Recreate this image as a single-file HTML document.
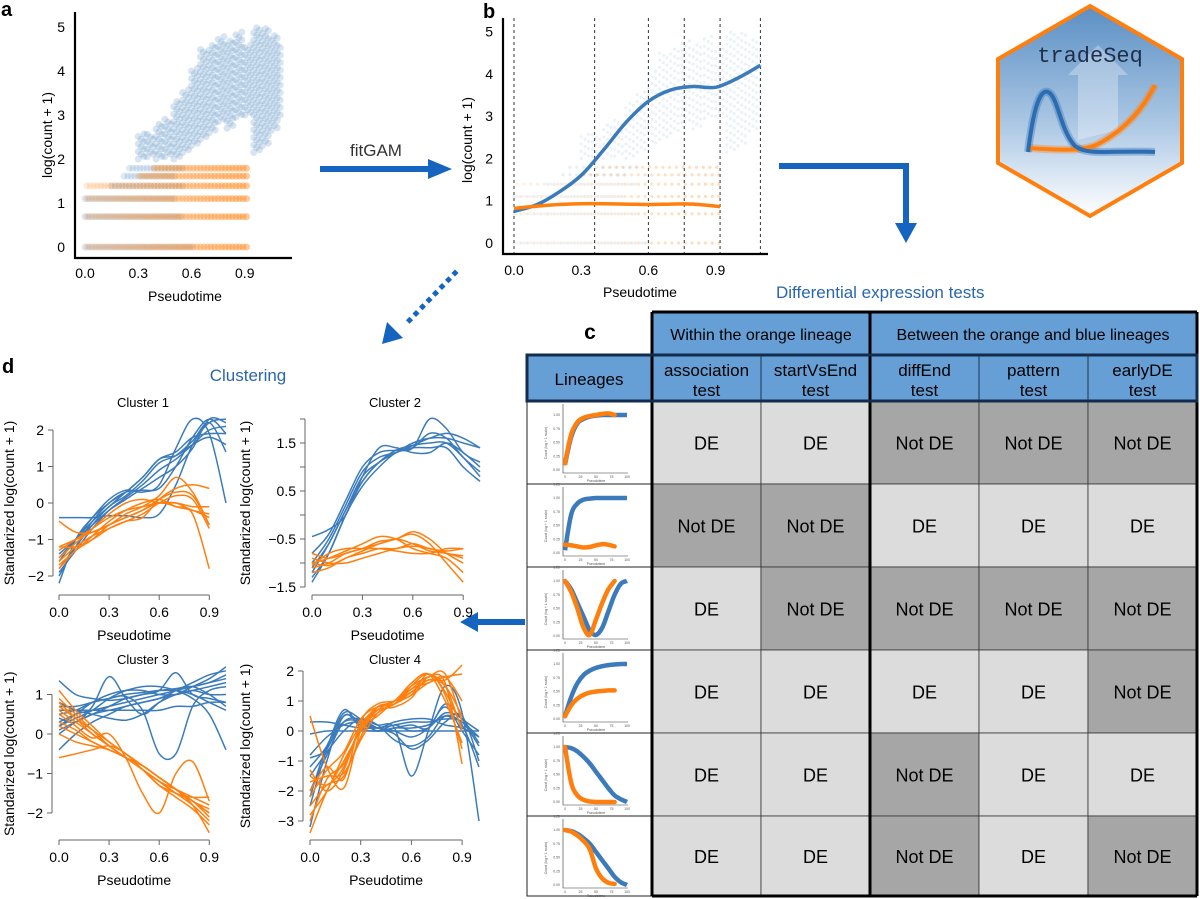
<!DOCTYPE html>
<html><head><meta charset="utf-8">
<style>
html,body{margin:0;padding:0;background:#fff;}
svg{display:block;font-family:"Liberation Sans",sans-serif;}
</style></head>
<body>
<svg id="fig" width="1200" height="899" viewBox="0 0 1200 899" xmlns="http://www.w3.org/2000/svg">
<defs>
<linearGradient id="hexg" x1="0" y1="0" x2="0" y2="1">
<stop offset="0" stop-color="#5b8fc4"/><stop offset="0.55" stop-color="#a9c6e3"/><stop offset="1" stop-color="#ffffff"/>
</linearGradient>
</defs>
<g id="root"></g>
</svg>
<script>
// ---------- DATA ----------
const rowLevels = [0, 0.69, 1.1, 1.39, 1.61, 1.79];
const orangeRowStart = [0, 0, 0, 0, 0.3, 0.38];
const orangeRowEnd = [0.92, 0.92, 0.92, 0.92, 0.92, 0.92];
const blueRowStart = [0, 0, 0, 0.15, 0.22, 0.25];
const blueRowEnd = [0.6, 0.55, 0.5, 0.55, 0.5, 0.55];
const cloudX = [0.30,0.35,0.40,0.45,0.50,0.55,0.60,0.65,0.70,0.75,0.80,0.85,0.90,0.95,1.00,1.05,1.10];
const cloudLo = [2.0,2.0,2.0,2.0,2.0,2.1,2.3,2.4,2.6,2.8,2.7,2.9,3.0,2.1,2.3,2.6,3.0];
const cloudHi = [2.6,2.6,2.8,2.9,3.3,3.6,4.1,4.5,4.6,4.8,4.7,4.9,4.6,5.0,5.0,4.8,4.6];
const fitBlueT = [0,0.1,0.2,0.3,0.4,0.5,0.6,0.7,0.8,0.9,1.0,1.1];
const fitBlue = [0.75,0.9,1.2,1.6,2.2,2.85,3.35,3.62,3.7,3.68,3.9,4.2];
const fitOrangeT = [0,0.1,0.2,0.3,0.4,0.5,0.6,0.7,0.8,0.92];
const fitOrange = [0.82,0.87,0.91,0.93,0.93,0.92,0.91,0.92,0.92,0.86];
const knots = [0, 0.36, 0.6, 0.76, 0.92, 1.1];
const yTicksA = [0,1,2,3,4,5];
const xTicks = [0,0.3,0.6,0.9];
const groupHeaders = ["Within the orange lineage","Between the orange and blue lineages"];
const testNames = [["association","test"],["startVsEnd","test"],["diffEnd","test"],["pattern","test"],["earlyDE","test"]];
const results = [
 ["DE","DE","Not DE","Not DE","Not DE"],
 ["Not DE","Not DE","DE","DE","DE"],
 ["DE","Not DE","Not DE","Not DE","Not DE"],
 ["DE","DE","DE","DE","Not DE"],
 ["DE","DE","Not DE","DE","DE"],
 ["DE","DE","Not DE","DE","Not DE"]];
const thumbBlue = [
 [0.1,0.6,0.85,0.93,0.97,0.99,1,1,1,1,1],
 [0.05,0.7,0.9,0.97,0.99,1,1,1,1,1,1],
 [1.0,0.85,0.6,0.35,0.1,0.02,0.15,0.45,0.75,0.95,1.0],
 [0.05,0.4,0.65,0.8,0.88,0.93,0.96,0.98,0.99,1,1],
 [1,0.98,0.92,0.82,0.7,0.55,0.4,0.25,0.12,0.05,0.0],
 [1,0.98,0.93,0.85,0.75,0.6,0.45,0.3,0.15,0.05,0]];
const thumbOrange = [
 [0.12,0.65,0.87,0.95,0.98,1.0,1.02,1.03,1.0],
 [0.15,0.14,0.12,0.10,0.11,0.14,0.16,0.15,0.12],
 [1.0,0.8,0.5,0.15,0.02,0.3,0.6,0.85,1.0],
 [0.05,0.25,0.37,0.44,0.48,0.5,0.51,0.52,0.52],
 [1,0.35,0.12,0.04,0.01,0,0,0,0],
 [1,0.97,0.9,0.8,0.65,0.3,0.12,0.04,0.02]];
const c1Blue = [
 [-0.4,-0.4,-0.4,-0.35,-0.35,-0.4,-0.3,0.5,1.6,2.2,2.3],
 [-2.0,-1.2,-0.5,0.0,0.3,0.35,0.4,1.0,1.8,2.3,1.9],
 [-2.2,-1.0,-0.4,0.1,0.35,0.3,0.5,1.5,2.3,1.9,0.0],
 [-1.6,-1.0,-0.5,-0.1,0.3,0.7,1.2,1.3,1.6,1.8,1.6],
 [-1.8,-1.2,-0.6,-0.1,0.2,0.6,1.1,1.3,1.7,2.2,1.4],
 [-1.5,-1.0,-0.4,0.0,0.3,0.7,1.2,1.4,1.8,1.9,1.9],
 [-1.9,-1.3,-0.7,-0.2,0.15,0.5,0.9,1.2,1.6,2.0,2.1],
 [-1.4,-1.0,-0.6,-0.2,0.1,0.4,0.7,1.0,1.5,2.3,2.2]];
const c1Orange = [
 [-0.5,-0.8,-0.8,-0.6,-0.3,-0.1,0.2,0.7,0.3,-0.6],
 [-1.2,-1.2,-1.0,-0.7,-0.5,-0.4,0.1,0.4,0.5,0.4],
 [-1.6,-1.2,-0.9,-0.7,-0.5,-0.3,0.0,0.2,0.1,-0.7],
 [-1.8,-1.3,-1.0,-0.6,-0.4,-0.2,0.0,-0.1,-0.3,-1.8],
 [-1.7,-1.3,-0.9,-0.5,-0.2,0.0,0.1,-0.1,-0.2,-0.4],
 [-1.5,-1.1,-0.7,-0.3,0.0,0.1,0.0,0.0,-0.1,-0.1],
 [-1.3,-1.0,-0.7,-0.4,-0.2,-0.1,0.0,0.0,-0.2,-0.3],
 [-1.2,-1.0,-0.8,-0.6,-0.4,-0.2,0.1,0.3,0.2,-0.6]];
const c2Blue = [
 [-0.45,-0.3,0.0,0.8,1.4,1.4,1.3,1.3,1.5,1.3,1.0],
 [-0.8,-0.4,0.3,1.0,1.3,1.35,1.4,2.0,1.8,1.3,1.1],
 [-1.0,-0.5,0.2,0.9,1.2,1.3,1.45,1.6,1.7,1.6,1.4],
 [-1.2,-0.6,0.1,0.8,1.1,1.3,1.5,1.6,1.6,1.5,1.4],
 [-1.3,-0.8,0.0,0.7,1.1,1.35,1.45,1.5,1.5,1.2,0.8],
 [-1.4,-0.8,0.0,0.6,1.0,1.3,1.4,1.7,1.6,1.2,0.9],
 [-1.1,-0.6,0.1,0.7,1.1,1.3,1.4,1.4,1.4,1.0,0.7]];
const c2Orange = [
 [-0.8,-0.9,-0.8,-0.7,-0.6,-0.5,-0.4,-0.6,-1.0,-1.4],
 [-1.0,-0.9,-0.75,-0.6,-0.45,-0.5,-0.7,-0.8,-0.9,-1.2],
 [-1.1,-1.0,-0.8,-0.7,-0.55,-0.5,-0.35,-0.5,-0.8,-1.0],
 [-1.2,-1.1,-0.9,-0.8,-0.7,-0.7,-0.6,-0.7,-0.75,-0.7],
 [-0.9,-1.0,-1.0,-0.9,-0.8,-0.7,-0.65,-0.7,-0.8,-0.85],
 [-1.05,-0.8,-0.7,-0.7,-0.7,-0.75,-0.8,-0.8,-0.7,-0.7],
 [-1.0,-1.05,-0.9,-0.75,-0.6,-0.5,-0.6,-0.75,-0.8,-0.9]];
const c3Blue = [
 [1.35,1.0,0.9,0.85,0.9,1.0,1.1,1.15,1.2,1.0,0.7],
 [-0.4,0.0,0.3,0.5,0.7,0.8,0.9,1.0,1.2,1.4,1.7],
 [0.0,0.3,0.5,0.6,0.7,0.8,0.9,1.1,1.3,1.5,1.6],
 [0.3,0.5,0.6,0.7,0.8,0.9,1.0,1.1,1.2,1.3,1.5],
 [0.7,0.7,0.8,0.9,1.0,1.05,1.1,1.1,1.0,0.8,0.6],
 [0.2,0.4,0.6,0.9,1.1,1.2,1.2,1.1,0.9,0.5,-0.4],
 [0.6,0.6,0.6,0.6,0.6,0.6,0.6,0.7,0.7,0.8,0.8],
 [0.4,0.3,0.7,1.45,0.9,0.5,0.8,1.1,1.2,1.3,1.4],
 [0.5,0.6,0.8,0.9,0.95,0.6,-0.5,-0.5,0.7,1.1,1.2],
 [0.1,0.3,0.5,0.7,0.9,1.0,1.1,1.55,1.0,0.9,0.8],
 [0.8,0.6,0.5,0.4,0.35,0.5,0.8,1.0,1.1,1.0,1.0],
 [0.2,0.5,0.8,1.0,1.1,1.1,1.0,1.0,1.1,1.2,1.3]];
const c3Orange = [
 [1.1,0.6,0.2,-0.2,-0.5,-0.8,-1.1,-1.4,-1.7,-2.0],
 [0.9,0.5,0.1,-0.3,-0.6,-0.9,-1.2,-1.4,-1.6,-1.8],
 [0.8,0.4,0.0,-0.3,-0.6,-0.9,-1.2,-1.5,-1.8,-2.2],
 [0.6,0.3,0.0,-0.3,-0.6,-0.8,-1.1,-1.4,-1.8,-2.5],
 [0.3,0.1,-0.2,-0.4,-0.6,-0.9,-1.2,-1.5,-1.6,-1.6],
 [0.0,-0.2,-0.3,-0.4,-0.6,-0.8,-1.1,-1.4,-1.7,-1.9],
 [-0.6,-0.5,-0.4,-0.3,-0.5,-0.9,-1.3,-1.5,-1.7,-2.0],
 [0.5,0.2,-0.1,0.0,-0.6,-1.5,-2.0,-1.0,-0.7,-1.7],
 [0.2,0.0,-0.2,-0.4,-0.6,-0.9,-1.3,-1.6,-1.9,-2.3],
 [0.7,0.4,0.1,-0.2,-0.5,-0.8,-1.1,-1.4,-1.7,-2.1]];
const c4Blue = [
 [-2.5,-0.6,0.7,0.1,0.0,0.1,0.1,0.2,0.5,0.3,-0.2],
 [-2.0,-0.8,0.3,0.4,0.2,0.1,-1.5,0.0,1.5,0.6,-3.0],
 [-0.9,-0.6,0.5,0.3,0.0,0.1,0.2,0.1,0.9,0.4,0.0],
 [0.3,0.3,0.2,0.1,0.1,0.2,0.3,0.3,0.4,0.3,-0.5],
 [-1.5,-0.7,0.0,0.4,0.2,-0.3,-0.5,-0.2,0.5,0.2,-1.2],
 [-3.2,-1.0,0.5,0.2,0.1,0.0,-0.2,0.1,0.8,0.0,-0.8],
 [-0.1,0.0,0.0,0.0,0.0,0.0,0.0,0.0,0.0,0.0,0.0],
 [-1.2,-0.5,0.6,0.4,0.1,-0.1,-0.6,-0.3,0.3,0.5,-1.0],
 [-2.2,-0.5,0.3,0.3,0.0,0.2,0.0,0.1,0.6,0.4,-0.4],
 [-0.8,-0.2,0.2,0.3,0.1,0.3,0.4,0.4,0.2,0.1,-0.2]];
const c4Orange = [
 [-3.4,-2.0,-1.0,0.0,0.7,1.0,1.4,1.8,1.6,-1.1],
 [-2.5,-1.8,-1.5,-0.2,0.8,0.9,1.5,1.9,1.3,0.1],
 [-2.0,-1.2,-1.6,0.3,0.9,1.0,1.3,1.7,1.7,2.2],
 [0.5,-1.2,-1.9,0.0,0.6,0.9,1.2,1.6,1.8,1.9],
 [-1.5,-1.8,-1.2,0.1,0.7,0.8,1.1,1.8,1.5,0.0],
 [-2.8,-2.0,-0.8,0.2,0.8,1.0,1.6,1.9,1.0,-0.4],
 [-1.7,-1.5,-1.4,-0.3,0.6,0.9,1.3,1.7,1.5,0.5],
 [-2.2,-1.3,-0.7,0.4,0.8,0.9,1.4,1.6,1.8,1.0],
 [-1.3,-2.0,-1.3,0.2,0.7,1.0,1.2,1.9,1.2,-0.6],
 [-3.0,-1.6,-1.1,0.1,0.5,1.0,1.5,1.8,1.9,0.3]];
const clusterTitles = ["Cluster 1","Cluster 2","Cluster 3","Cluster 4"];

// ---------- HELPERS ----------
const NS="http://www.w3.org/2000/svg";
const root=document.getElementById('root');
function mk(tag,attrs,parent,text){const e=document.createElementNS(NS,tag);for(const k in attrs)e.setAttribute(k,attrs[k]);if(text!==undefined)e.textContent=text;(parent||root).appendChild(e);return e;}
function smooth(pts){let d="M"+pts[0][0].toFixed(1)+","+pts[0][1].toFixed(1);for(let i=0;i<pts.length-1;i++){const p0=pts[Math.max(0,i-1)],p1=pts[i],p2=pts[i+1],p3=pts[Math.min(pts.length-1,i+2)];const c1x=p1[0]+(p2[0]-p0[0])/6,c1y=p1[1]+(p2[1]-p0[1])/6,c2x=p2[0]-(p3[0]-p1[0])/6,c2y=p2[1]-(p3[1]-p1[1])/6;d+=" C"+c1x.toFixed(1)+","+c1y.toFixed(1)+" "+c2x.toFixed(1)+","+c2y.toFixed(1)+" "+p2[0].toFixed(1)+","+p2[1].toFixed(1);}return d;}
const BLUE="#3b7bbb", ORANGE="#ff7f0e", ARROW="#1565c0";

// ---------- PANEL A ----------
const gA=mk('g',{});

const xa=t=>85+177.5*t, ya=v=>247-44*v;
function drawRows(g,xf,yf,r,opB,opO,step,cloudOp){
 for(let i=0;i<rowLevels.length;i++){
  for(let t=blueRowStart[i];t<=blueRowEnd[i]+1e-9;t+=step){const c=mk('circle',{cx:xf(t),cy:yf(rowLevels[i]),r:r,fill:BLUE,'fill-opacity':opB},g);}
  for(let t=orangeRowStart[i]+step/2;t<=orangeRowEnd[i]+1e-9;t+=step){const c=mk('circle',{cx:xf(t),cy:yf(rowLevels[i]),r:r,fill:ORANGE,'fill-opacity':opO*(0.5+t)},g);}
 }
 for(let i=0;i<cloudX.length;i++){
  const offs=[0,0.017,0.033];
  offs.forEach((dx,j)=>{
   if(cloudX[i]+dx>1.1)return;
   const phase=[0,0.11,0.06][j]+(i%2)*0.05;
   for(let v=cloudLo[i]+phase;v<=cloudHi[i]+1e-9;v+=0.17){const c=mk('circle',{cx:xf(cloudX[i]+dx),cy:yf(v),r:r,fill:BLUE,'fill-opacity':cloudOp},g);}
  });
 }
}
drawRows(gA,xa,ya,3.5,0.16,0.3,0.02,0.2);
function axesL(g,x0,y0,x1,y1,xf,yf,yt,xt,tickY){
 const a=mk('path',{d:`M${x0},${y0} V${y1} H${x1}`,stroke:'#000','stroke-width':2.2,fill:'none'},g);
 
 yt.forEach(v=>{const t=mk('text',{x:x0-10,y:yf(v)+5,'font-size':14,'text-anchor':'end'},g,String(v));});
 xt.forEach(v=>{const t=mk('text',{x:xf(v),y:tickY,'font-size':14,'text-anchor':'middle'},g,v.toFixed(1));});
}
axesL(gA,75,12,292,258,xa,ya,yTicksA,xTicks,278);
let t;
t=mk('text',{x:185,y:301,'font-size':14,'text-anchor':'middle'},gA,'Pseudotime');
t=mk('text',{x:0,y:0,'font-size':14,'text-anchor':'middle',transform:'translate(52,135) rotate(-90)'},gA,'log(count + 1)');
t=mk('text',{x:1,y:16,'font-size':20,'font-weight':'bold'},gA,'a');

// ---------- PANEL B ----------
const gB=mk('g',{});

const xb=t=>514+224*t, yb=v=>243-42.3*v;
drawRows(gB,xb,yb,1.6,0.12,0.2,0.03,0.1);
knots.forEach(k=>{const l=mk('line',{x1:xb(k),x2:xb(k),y1:18,y2:254,stroke:'#333','stroke-width':1,'stroke-dasharray':'3,3'},gB);});
let p=mk('path',{d:smooth(fitBlueT.map((x,i)=>[xb(x),yb(fitBlue[i])])),stroke:BLUE,'stroke-width':3.5,fill:'none'},gB);
p=mk('path',{d:smooth(fitOrangeT.map((x,i)=>[xb(x),yb(fitOrange[i])])),stroke:ORANGE,'stroke-width':3.5,fill:'none'},gB);
axesL(gB,503,18,768,254,xb,yb,yTicksA,xTicks,275);
t=mk('text',{x:640,y:297,'font-size':14,'text-anchor':'middle'},gB,'Pseudotime');
t=mk('text',{x:0,y:0,'font-size':14,'text-anchor':'middle',transform:'translate(472,140) rotate(-90)'},gB,'log(count + 1)');
t=mk('text',{x:483,y:18,'font-size':20,'font-weight':'bold'},gB,'b');

// ---------- ARROWS ----------
const gArr=mk('g',{});

p=mk('path',{d:'M320,166 H428 V159 L452,169 L428,179 V172 H320 Z',fill:ARROW},gArr);
t=mk('text',{x:376,y:156,'font-size':17,'text-anchor':'middle',fill:'#333'},gArr,'fitGAM');
p=mk('path',{d:'M779,163 H909 V223 H917 L906,243 L895,223 H903 V169 H779 Z',fill:ARROW},gArr);
for(let i=0;i<8;i++){const f=i/8;const c=mk('rect',{x:455-(455-403)*f-2.5,y:273+(327-273)*f-2.5,width:5,height:5,fill:ARROW,transform:`rotate(45 ${455-(455-403)*f} ${273+(327-273)*f})`},gArr);}
p=mk('path',{d:'M382,344 L387,322 L403,338 Z',fill:ARROW},gArr);
p=mk('path',{d:'M525,619 H478 V612 L460,622 L478,632 V625 H525 Z',fill:ARROW},gArr);
t=mk('text',{x:776,y:298,'font-size':17,fill:'#2a66ad'},gArr,'Differential expression tests');

// ---------- LOGO ----------
const gL=mk('g',{});

p=mk('path',{d:'M1090,6 L1182,59 L1182,163 L1090,216 L998,163 L998,59 Z',fill:'url(#hexg)',stroke:'#ff7f0e','stroke-width':4},gL);
p=mk('path',{d:'M1078,140 V75 H1068 L1098,45 L1128,75 H1118 V130 Z',fill:'#ffffff','fill-opacity':0.3},gL);
t=mk('text',{x:1090,y:62,'font-size':22,'text-anchor':'middle','font-family':'Liberation Mono, monospace',fill:'#1f2f4a'},gL,'tradeSeq');
p=mk('path',{d:'M1028,148 C1060,150 1085,152 1100,143 C1120,132 1140,115 1155,85',stroke:'#ff7f0e','stroke-width':8,'stroke-opacity':0.35,fill:'none'},gL);
p=mk('path',{d:'M1028,152 C1032,120 1038,88 1048,92 C1058,96 1060,130 1075,146 C1088,156 1110,150 1155,152',stroke:'#2b6cb3','stroke-width':8,'stroke-opacity':0.35,fill:'none'},gL);
p=mk('path',{d:'M1028,148 C1060,150 1085,152 1100,143 C1120,132 1140,115 1155,85',stroke:'#ff7f0e','stroke-width':4,fill:'none'},gL);
p=mk('path',{d:'M1028,152 C1032,120 1038,88 1048,92 C1058,96 1060,130 1075,146 C1088,156 1110,150 1155,152',stroke:'#2b6cb3','stroke-width':4,fill:'none'},gL);

// ---------- TABLE ----------
const gT=mk('g',{});

const colX=[527,652,761,870,979,1088,1197];
const rowY=[401,484,567,650,733,816,896];
const HB="#659fd6";
t=mk('text',{x:590,y:339,'font-size':21,'font-weight':'bold','text-anchor':'middle'},gT,'c');
let r=mk('rect',{x:652,y:312,width:218,height:43,fill:HB},gT);
r=mk('rect',{x:870,y:312,width:327,height:43,fill:HB},gT);
t=mk('text',{x:761,y:340,'font-size':16,'text-anchor':'middle'},gT,groupHeaders[0]);
t=mk('text',{x:1033,y:340,'font-size':16,'text-anchor':'middle'},gT,groupHeaders[1]);
r=mk('rect',{x:527,y:355,width:670,height:46,fill:HB},gT);
t=mk('text',{x:589,y:385,'font-size':17,'text-anchor':'middle'},gT,'Lineages');
testNames.forEach((n,j)=>{const cx=(colX[j+1]+colX[j+2])/2;
 t=mk('text',{x:cx,y:376,'font-size':17,'text-anchor':'middle'},gT,n[0]);
 t=mk('text',{x:cx,y:396,'font-size':17,'text-anchor':'middle'},gT,n[1]);
 if(j>0){const l=mk('line',{x1:colX[j+1],x2:colX[j+1],y1:355,y2:401,stroke:'#1c3556','stroke-width':1},gT);}
});
results.forEach((row,i)=>{
 const y0=rowY[i],h=rowY[i+1]-rowY[i];
 row.forEach((v,j)=>{
  const x0=colX[j+1],w=colX[j+2]-colX[j+1];
  const c=mk('rect',{x:x0,y:y0,width:w,height:h,fill:v==='DE'?'#dcdcdc':'#a6a6a6',stroke:'#333','stroke-width':0.8},gT);
  const tt=mk('text',{x:x0+w/2,y:y0+h/2+7,'font-size':18,'text-anchor':'middle'},gT,v);
 });
 const tb=mk('rect',{x:527,y:y0,width:125,height:h,fill:'#fff',stroke:'#222','stroke-width':1},gT);
 const tx=v=>565+0.62*v, ty=v=>y0+69-55*v;
 const ax=mk('path',{d:`M563,${y0+3} V${y0+72} H628`,stroke:'#333','stroke-width':0.6,fill:'none'},gT);
 [0,0.25,0.5,0.75,1,1.25].forEach(v=>{const q=mk('text',{x:560,y:ty(v)+1,'font-size':3.5,'text-anchor':'end',fill:'#555'},gT,v.toFixed(2));});
 [0,25,50,75,100].forEach(v=>{const q=mk('text',{x:tx(v),y:y0+77,'font-size':3.5,'text-anchor':'middle',fill:'#555'},gT,String(v));});
 let q=mk('text',{x:596,y:y0+81,'font-size':3.5,'text-anchor':'middle',fill:'#555'},gT,'Pseudotime');
 q=mk('text',{x:0,y:0,'font-size':3.5,'text-anchor':'middle',fill:'#555',transform:`translate(547,${y0+42}) rotate(-90)`},gT,'Count (log + 1 scale)');
 let pb=mk('path',{d:smooth(thumbBlue[i].map((v,k)=>[tx(k*10),ty(v)])),stroke:BLUE,'stroke-width':4.5,fill:'none'},gT);
 pb=mk('path',{d:smooth(thumbOrange[i].map((v,k)=>[tx(k*10),ty(v)])),stroke:ORANGE,'stroke-width':4.5,fill:'none','stroke-linecap':'round'},gT);
});
[[652,312,652,896],[870,312,870,896],[1197,312,1197,896],[652,312,1197,312],[652,355,1197,355],[652,896,1197,896]].forEach(s=>{const l=mk('line',{x1:s[0],y1:s[1],x2:s[2],y2:s[3],stroke:'#000','stroke-width':3},gT);});
r=mk('rect',{x:527,y:355,width:670,height:46,fill:'none',stroke:'#132c4d','stroke-width':3},gT);

// ---------- PANEL D ----------
const gD=mk('g',{});

t=mk('text',{x:2,y:373,'font-size':20,'font-weight':'bold'},gD,'d');
t=mk('text',{x:248,y:381,'font-size':17,'text-anchor':'middle',fill:'#2a66ad'},gD,'Clustering');
const clusterSpecs=[
 {blue:c1Blue,orange:c1Orange,x0:59,xs:167,y0:503,ys:36.5,ax:53,ticks:[-2,-1,0,1,2],lab:[-2,-1,0,1,2],xAxisY:595,ttl:[143,407],ytx:14},
 {blue:c2Blue,orange:c2Orange,x0:312,xs:168,y0:515,ys:48,ax:305,ticks:[-1.5,-1,-0.5,0,0.5,1,1.5,2],lab:[-1.5,-0.5,0.5,1.5],xAxisY:595,ttl:[395,407],ytx:250},
 {blue:c3Blue,orange:c3Orange,x0:59,xs:167,y0:734,ys:39.5,ax:52,ticks:[-2,-1,0,1],lab:[-2,-1,0,1],xAxisY:840,ttl:[143,664],ytx:14},
 {blue:c4Blue,orange:c4Orange,x0:310,xs:169,y0:731,ys:30,ax:303,ticks:[-3,-2,-1,0,1,2],lab:[-3,-2,-1,0,1,2],xAxisY:840,ttl:[395,664],ytx:250}];
clusterSpecs.forEach((s,ci)=>{
 const g=mk('g',{},gD);
 
 const xf=v=>s.x0+s.xs*v, yf=v=>s.y0-s.ys*v;
 s.blue.forEach(arr=>{const pp=mk('path',{d:smooth(arr.map((v,k)=>[xf(k/10),yf(v)])),stroke:BLUE,'stroke-width':1.5,fill:'none'},g);});
 s.orange.forEach(arr=>{const pp=mk('path',{d:smooth(arr.map((v,k)=>[xf(k/10),yf(v)])),stroke:ORANGE,'stroke-width':1.5,fill:'none'},g);});
 const lo=Math.min(...s.ticks),hi=Math.max(...s.ticks);
 let a=mk('line',{x1:s.ax,x2:s.ax,y1:yf(lo),y2:yf(hi),stroke:'#666','stroke-width':1},g);
 s.ticks.forEach(v=>{const l=mk('line',{x1:s.ax-5,x2:s.ax,y1:yf(v),y2:yf(v),stroke:'#666'},g);});
 s.lab.forEach(v=>{const q=mk('text',{x:s.ax-9,y:yf(v)+5,'font-size':14,'text-anchor':'end'},g,(v<0?'\u2212':'')+Math.abs(v));});
 a=mk('line',{x1:xf(0),x2:xf(0.9),y1:s.xAxisY,y2:s.xAxisY,stroke:'#666'},g);
 xTicks.forEach(v=>{const l=mk('line',{x1:xf(v),x2:xf(v),y1:s.xAxisY,y2:s.xAxisY+5,stroke:'#666'},g);
  const q=mk('text',{x:xf(v),y:s.xAxisY+22,'font-size':14,'text-anchor':'middle'},g,v.toFixed(1));});
 let q=mk('text',{x:xf(0.45),y:s.xAxisY+45,'font-size':14,'text-anchor':'middle'},g,'Pseudotime');
 q=mk('text',{x:s.ttl[0],y:s.ttl[1],'font-size':13,'text-anchor':'middle'},g,clusterTitles[ci]);
 q=mk('text',{x:0,y:0,'font-size':14,'text-anchor':'middle',transform:`translate(${s.ytx},${(yf(lo)+yf(hi))/2}) rotate(-90)`},g,'Standarized log(count + 1)');
});
</script>
</body></html>
